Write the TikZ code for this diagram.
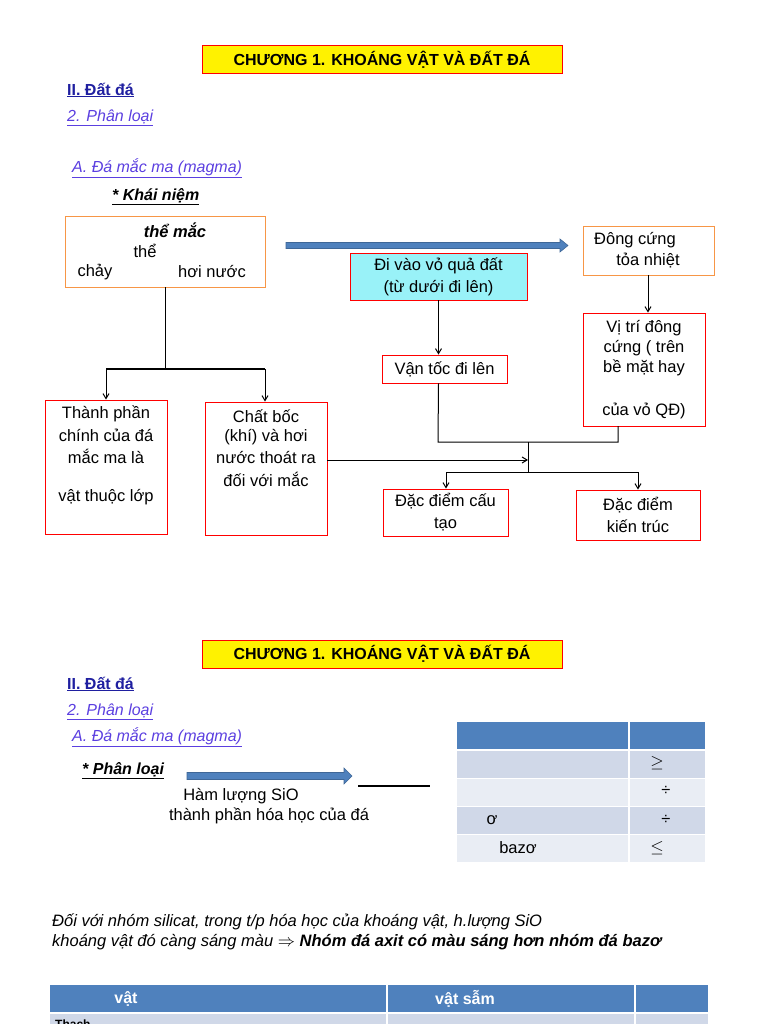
\documentclass[tikz,border=0pt]{standalone}
\usepackage{fontspec}
\setmainfont{Liberation Sans}
\usetikzlibrary{arrows.meta}
\definecolor{tb}{HTML}{4F81BD}
\definecolor{r1}{HTML}{D0D8E8}
\definecolor{r2}{HTML}{E9EDF4}
\definecolor{hd}{HTML}{1F1FA0}
\definecolor{pu}{HTML}{5B3FE0}
\definecolor{ob}{HTML}{F79646}
\definecolor{cy}{HTML}{99F2F8}
\begin{document}
\begin{tikzpicture}[x=1pt,y=-1pt,
 t/.style={font=\fontsize{16.5}{19}\selectfont, inner sep=0pt},
 rb/.style={draw=red, line width=0.9pt},
 obx/.style={draw=ob, line width=0.9pt},
 title/.style={draw=red, fill=yellow, line width=1pt, font=\fontsize{16}{19}\selectfont\bfseries, inner sep=0pt},
 ln/.style={line width=1pt},
 ar/.style={line width=1pt,-{Straight Barb[length=5pt,width=6pt]}},
 big/.style={draw=tb!80!black, line width=0.6pt, fill=tb},
 ]
\useasboundingbox (0,0) rectangle (768,1024);
\clip (0,0) rectangle (768,1024);
% ===== Part 1 =====
\node[title, minimum width=360pt, minimum height=28pt] (t1) at (382,60) {CHƯƠNG 1. KHOÁNG VẬT VÀ ĐẤT ĐÁ};
\node[t, anchor=west, text=hd, font=\fontsize{16}{19}\selectfont\bfseries] (h1) at (67,90) {\underline{II. Đất đá}};
\node[t, anchor=west, text=pu, font=\fontsize{16}{19}\selectfont\itshape] (h2) at (67,118) {\underline{2. Phân loại}};
\node[t, anchor=west, text=pu, font=\fontsize{16}{19}\selectfont\itshape] (h3) at (72,168) {\underline{A. Đá mắc ma (magma)}};
\node[t, anchor=west, font=\fontsize{16}{19}\selectfont\bfseries\itshape] (h4) at (112,197) {\underline{* Khái niệm}};

\draw[obx] (65,216) rectangle (265,287);
\coordinate (b1b) at (165,287);
\node[t, font=\fontsize{16.5}{19}\selectfont\bfseries\itshape] (b1a) at (175,230) {thể mắc};
\node[t] (b1c) at (145,251) {thể};
\node[t] (b1d) at (95,272) {chảy};
\node[t] (b1e) at (212,272) {hơi nước};

\draw[big] (286,242.5) -- (560,242.5) -- (560,239) -- (568,245.5) -- (560,252) -- (560,248.5) -- (286,248.5) -- cycle;

\node[rb, fill=cy, minimum width=177pt, minimum height=47pt, t, align=center] (vao) at (438.5,276.5) {Đi vào vỏ quả đất\\[3pt](từ dưới đi lên)};
\node[obx, minimum width=131pt, minimum height=49pt] (dong) at (648.5,250.5) {};
\node[t] at (635,240) {Đông cứng};
\node[t] at (648,261) {tỏa nhiệt};
\node[rb, minimum width=122pt, minimum height=113pt] (vitri) at (644,369.5) {};
\node[t] at (644,328) {Vị trí đông};
\node[t] at (644,348) {cứng ( trên};
\node[t] at (644,368) {bề mặt hay};
\node[t] at (644,411) {của vỏ QĐ)};
\node[rb, minimum width=125pt, minimum height=28pt, t] (vt) at (444.5,369) {Vận tốc đi lên};
\node[rb, minimum width=125pt, minimum height=47pt, t, align=center] (ct) at (445.5,512.5) {Đặc điểm cấu\\[3pt]tạo};
\node[rb, minimum width=124pt, minimum height=50pt, t, align=center] (kt) at (638,515) {Đặc điểm\\[3pt]kiến trúc};
\node[rb, minimum width=122pt, minimum height=134pt] (tp) at (106,467) {};
\node[t] at (106,414) {Thành phần};
\node[t] at (106,435) {chính của đá};
\node[t] at (106,456) {mắc ma là};
\node[t] at (106,497) {vật thuộc lớp};
\node[rb, minimum width=122pt, minimum height=133pt] (cb) at (266,468.5) {};
\node[t] at (266,416) {Chất bốc};
\node[t] at (266,437) {(khí) và hơi};
\node[t] at (266,458) {nước thoát ra};
\node[t] at (266,479) {đối với mắc};

\draw[ar] (dong.south -| 648,0) -- (vitri.north -| 648,0);
\draw[ar] (vao.south) -- (vt.north -| vao.south);
\draw[ln] (vt.south -| vao.south) -- (438,442) -- (618,442) -- (618,426);
\draw[ln] (528,442) -- (528,472);
\draw[ar] (cb.east |- 0,460) -- (528,460);
\draw[ln] (446,472) -- (638,472);
\draw[ar] (446,472) -- (ct.north -| 446,0);
\draw[ar] (638,472) -- (kt.north);
\draw[ln] (b1b) -- (165,369);
\draw[line width=1.8pt] (106,369) -- (265,369);
\draw[ar] (106,369) -- (tp.north);
\draw[ar] (265,369) -- (cb.north -| 265,0);

% ===== Part 2 =====
\node[title, minimum width=360pt, minimum height=28pt] (t2) at (382,654) {CHƯƠNG 1. KHOÁNG VẬT VÀ ĐẤT ĐÁ};
\node[t, anchor=west, text=hd, font=\fontsize{16}{19}\selectfont\bfseries] (k1) at (67,684) {\underline{II. Đất đá}};
\node[t, anchor=west, text=pu, font=\fontsize{16}{19}\selectfont\itshape] (k2) at (67,712) {\underline{2. Phân loại}};
\node[t, anchor=west, text=pu, font=\fontsize{16}{19}\selectfont\itshape] (k3) at (72,737) {\underline{A. Đá mắc ma (magma)}};
\node[t, anchor=west, font=\fontsize{16}{19}\selectfont\bfseries\itshape] (k4) at (82,771) {\underline{* Phân loại}};
\draw[big] (187,772.5) -- (344,772.5) -- (344,768) -- (352,776) -- (344,784) -- (344,779.5) -- (187,779.5) -- cycle;
\draw[line width=1.3pt] (358,786) -- (430,786);
\node[t] (hl) at (241,796) {Hàm lượng SiO};
\node[t] (hh) at (269,816) {thành phần hóa học của đá};

\fill[tb] (457,722) rectangle (705,749);
\fill[r1] (457,751) rectangle (705,778);
\fill[r2] (457,779) rectangle (705,806);
\fill[r1] (457,807) rectangle (705,834);
\fill[r2] (457,835) rectangle (705,862);
\draw[white, line width=1.5pt] (629,722) -- (629,862);
\node[t] at (657,763) {$\geq$};
\node[t] at (666,791) {÷};
\node[t] at (492,820) {ơ};
\node[t] at (666,820) {÷};
\node[t] at (518,848) {bazơ};
\node[t] at (657,848) {$\leq$};

\node[t, anchor=west, font=\fontsize{16.5}{19}\selectfont\itshape] (p1) at (52,922) {Đối với nhóm silicat, trong t/p hóa học của khoáng vật, h.lượng SiO};
\node[t, anchor=west, font=\fontsize{16.5}{19}\selectfont\itshape] (p2) at (52,942) {khoáng vật đó càng sáng màu $\Rightarrow$ \textbf{Nhóm đá axit có màu sáng hơn nhóm đá bazơ}};

\fill[tb] (50,985) rectangle (708,1012);
\fill[r1] (50,1014) rectangle (708,1030);
\draw[white, line width=1.5pt] (387,985) -- (387,1030) (635,985) -- (635,1030);
\node[t, text=white, font=\fontsize{16}{19}\selectfont\bfseries] at (126,999) {vật};
\node[t, text=white, font=\fontsize{16}{19}\selectfont\bfseries] at (465,999) {vật sẫm};
\node[t, anchor=west, font=\fontsize{12}{14}\selectfont\bfseries] at (55,1025) {Thạch};
\end{tikzpicture}
\end{document}
